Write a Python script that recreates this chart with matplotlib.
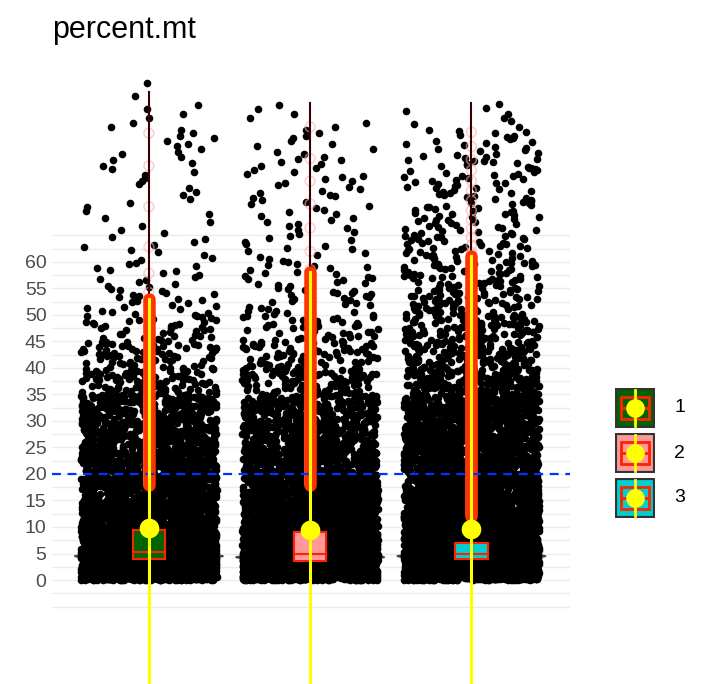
import numpy as np
import matplotlib
matplotlib.use("Agg")
import matplotlib.pyplot as plt
from matplotlib.patches import Rectangle, Ellipse

plt.rcParams['font.family'] = ['Liberation Sans', 'DejaVu Sans']

groups = ["1", "2", "3"]
fills = ["#006400", "#FF9999", "#00CED1"]
bin_edges = list(range(0, 100, 5))
counts1 = [1500, 900, 550, 420, 330, 280, 230, 100, 70, 40, 22, 15, 10, 7, 7, 9, 10, 6, 2]
counts2 = [1600, 950, 560, 420, 330, 270, 200, 110, 70, 45, 28, 22, 14, 13, 14, 14, 10, 6, 0]
counts3 = [1500, 950, 600, 480, 400, 340, 290, 180, 130, 100, 75, 55, 42, 35, 32, 30, 22, 8, 0]
box_q1 = [4.0, 3.5, 4.0]
box_med = [5.3, 5.0, 5.0]
box_q3 = [9.5, 9.0, 7.0]
means = [9.8, 9.5, 9.6]
sd_upper = [53, 58, 61]
sd_lower = [-40, -40, -40]
red_lo = [18, 18, 12]
red_hi = [53, 58, 61]
maxv = [92, 90, 90]
outliers_lo = [18, 18, 12]
violin_mode = [4.5, 4.3, 4.5]
hline = 20
ytick_vals = list(range(0, 61, 5))

fig = plt.figure(figsize=(7.24, 6.84), dpi=100)
ax = fig.add_axes([0.072, 0.0, 0.715, 0.912])
ax.set_xlim(0.40, 3.61)
ax.set_ylim(-19.6, 98)
for s in ax.spines.values():
    s.set_visible(False)
ax.set_xticks([])
ax.set_yticks(ytick_vals)
ax.set_yticklabels([str(v) for v in ytick_vals], fontsize=14, color="#4d4d4d")
ax.tick_params(length=0, pad=4)
for g in np.arange(-5, 65.1, 2.5):
    ax.axhline(g, color="#ebebeb", lw=1.0, zorder=0)

rng = np.random.default_rng(3)
for i, cnts in enumerate([counts1, counts2, counts3]):
    x0 = i + 1
    ax.add_patch(Ellipse((x0, violin_mode[i]), 0.92, 1.2, color="#2f4f4f", zorder=1))
    ys = []
    for lo, c in zip(bin_edges, cnts):
        if c:
            ys.append(np.linspace(lo, lo + 5, c, endpoint=False) + 2.5 / max(c, 1))
    ys = np.concatenate(ys)
    xs = x0 + rng.uniform(-0.42, 0.42, len(ys))
    ax.scatter(xs, ys, s=30, color="black", lw=0, zorder=2)
    oy = ys[ys > outliers_lo[i]][::12]
    ax.scatter(np.full(len(oy), x0), oy, s=50, facecolors="none",
               edgecolors="#ffb0b0", lw=1.2, alpha=0.6, zorder=3)
    ax.plot([x0, x0], [red_lo[i], maxv[i]], color="#3a0000", lw=1.5, zorder=3)
    ax.plot([x0, x0], [red_lo[i], red_hi[i]], color="#FF3300", lw=9,
            solid_capstyle="round", zorder=4)
    ax.add_patch(Rectangle((x0 - 0.1, box_q1[i]), 0.2, box_q3[i] - box_q1[i],
                           facecolor=fills[i], edgecolor="#FF2200", lw=1.5, zorder=5))
    ax.plot([x0 - 0.1, x0 + 0.1], [box_med[i]] * 2, color="#FF2200", lw=1.5, zorder=6)
    ax.plot([x0, x0], [sd_lower[i], sd_upper[i]], color="#FFFF00", lw=2.2, zorder=7)
    ax.scatter([x0], [means[i]], s=200, color="#FFFF00", zorder=8, lw=0)

ax.axhline(hline, color="#0033FF", lw=1.6, ls=(0, (4, 3)), zorder=6)
fig.text(52 / 724, 1 - 30 / 684, "percent.mt", fontsize=22, va="center", ha="left")

for k, (lab, f) in enumerate(zip(groups, fills)):
    top = 388 + k * 45
    lax = fig.add_axes([615 / 724, 1 - (top + 40) / 684, 40 / 724, 40 / 684])
    lax.set_xlim(0, 1); lax.set_ylim(0, 1); lax.axis("off")
    lax.add_patch(Rectangle((0, 0), 1, 1, facecolor=f, edgecolor="#333333", lw=3))
    lax.add_patch(Rectangle((0.15, 0.22), 0.7, 0.56, facecolor="none", edgecolor="#FF2200", lw=2))
    lax.plot([0.15, 0.85], [0.5, 0.5], color="#FF2200", lw=2)
    lax.plot([0.5, 0.5], [0.05, 0.95], color="#FFFF00", lw=2)
    lax.scatter([0.5], [0.5], s=180, color="#FFFF00", lw=0, zorder=5)
    fig.text(674 / 724, 1 - (top + 20) / 684, lab, fontsize=14, va="center")

fig.savefig("out.png", dpi=100)
